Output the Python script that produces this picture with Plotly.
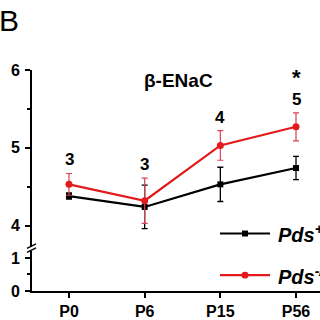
import plotly.graph_objects as go

# ---- data ----
categories = ["P0", "P6", "P15", "P56"]
wt_mean = [4.38, 4.24, 4.53, 4.74]
wt_err = [0.04, 0.28, 0.22, 0.15]
ko_mean = [4.53, 4.32, 5.03, 5.27]
ko_err = [0.14, 0.29, 0.19, 0.18]
n_labels = ["3", "3", "4", "5"]
sig_labels = ["", "", "", "*"]
legend_names = ["Pds<sup>+/+</sup>", "Pds<sup>-/-</sup>"]
title_text = "β-ENaC"
panel_letter = "B"

BLACK = "#000000"
RED = "#e31a1c"
RED_ERR = "#d9434f"
FONT = "Liberation Sans, Arial, sans-serif"

W, H = 320, 320
ML, MR, MT, MB = 32, 0, 70, 27
PW = W - ML - MR
PH = H - MT - MB


def px2x(px):
    return (px - ML) / PW


def px2y(py):
    return (H - MB - py) / PH


fig = go.Figure()

fig.add_trace(go.Scatter(
    x=categories, y=wt_mean, mode="lines+markers",
    line=dict(color=BLACK, width=2.2),
    marker=dict(symbol="square", size=6, color=BLACK),
    error_y=dict(type="data", array=wt_err, color=BLACK, thickness=1.3, width=3),
    showlegend=False, cliponaxis=False,
))
fig.add_trace(go.Scatter(
    x=categories, y=ko_mean, mode="lines+markers",
    line=dict(color=RED, width=2.2),
    marker=dict(symbol="circle", size=7, color=RED),
    error_y=dict(type="data", array=ko_err, color=RED_ERR, thickness=1.2, width=3),
    showlegend=False, cliponaxis=False,
))
# empty trace so the lower (0-1) axis segment is drawn
fig.add_trace(go.Scatter(
    x=categories, y=[None] * len(categories), yaxis="y2", mode="lines",
    showlegend=False, hoverinfo="skip",
))

annotations = []
for i, cat in enumerate(categories):
    top = max(ko_mean[i] + ko_err[i], wt_mean[i] + wt_err[i])
    annotations.append(dict(
        x=cat, y=top, xref="x", yref="y", text=f"<b>{n_labels[i]}</b>",
        showarrow=False, yanchor="bottom", yshift=2,
        font=dict(family=FONT, size=17, color=BLACK),
    ))
    if sig_labels[i]:
        annotations.append(dict(
            x=cat, y=top, xref="x", yref="y", text=f"<b>{sig_labels[i]}</b>",
            showarrow=False, yanchor="bottom", yshift=21,
            font=dict(family=FONT, size=22, color=BLACK),
        ))

annotations.append(dict(
    x=px2x(178), y=px2y(81), xref="paper", yref="paper", text=f"<b>{title_text}</b>",
    showarrow=False, xanchor="center", yanchor="middle",
    font=dict(family=FONT, size=19, color=BLACK),
))
annotations.append(dict(
    x=px2x(-3), y=px2y(20), xref="paper", yref="paper", text=panel_letter,
    showarrow=False, xanchor="left", yanchor="middle",
    font=dict(family=FONT, size=30, color=BLACK),
))

shapes = []
leg_y = [235, 277]
leg_cols = [BLACK, RED]
for k in range(2):
    shapes.append(dict(type="line", xref="paper", yref="paper",
                       x0=px2x(220), x1=px2x(270), y0=px2y(leg_y[k]), y1=px2y(leg_y[k]),
                       line=dict(color=leg_cols[k], width=2.2)))
    annotations.append(dict(
        x=px2x(276), y=px2y(leg_y[k]), xref="paper", yref="paper",
        text=f"<b><i>{legend_names[k]}</i></b>", showarrow=False,
        xanchor="left", yanchor="middle",
        font=dict(family=FONT, size=20, color=BLACK),
    ))
# legend glyphs
shapes.append(dict(type="rect", xref="paper", yref="paper",
                   x0=px2x(242), x1=px2x(248), y0=px2y(leg_y[0] + 3), y1=px2y(leg_y[0] - 3),
                   fillcolor=BLACK, line=dict(width=0)))
shapes.append(dict(type="circle", xref="paper", yref="paper",
                   x0=px2x(241.5), x1=px2x(248.5), y0=px2y(leg_y[1] + 3.5), y1=px2y(leg_y[1] - 3.5),
                   fillcolor=RED, line=dict(width=0)))
# axis break marks
for dy in (0, 4):
    shapes.append(dict(type="line", xref="paper", yref="paper",
                       x0=px2x(27), x1=px2x(36), y0=px2y(250 + dy), y1=px2y(245.5 + dy),
                       line=dict(color=BLACK, width=1.5)))

axis_common = dict(
    showgrid=False, zeroline=False, showline=True, linecolor=BLACK, linewidth=2,
    ticks="outside", tickcolor=BLACK, tickwidth=2, ticklen=5,
    tickfont=dict(family=FONT, size=16, color=BLACK),
)

fig.update_layout(
    width=W, height=H,
    margin=dict(l=ML, r=MR, t=MT, b=MB),
    paper_bgcolor="white", plot_bgcolor="rgba(0,0,0,0)",
    font=dict(family=FONT, color=BLACK),
    xaxis=dict(
        **{**axis_common, "tickfont": dict(family=FONT, size=16, color=BLACK)},
        type="category", categoryorder="array", categoryarray=categories,
        range=[-0.489, 3.317], anchor="y2",
        tickvals=categories, ticktext=[f"<b>{c}</b>" for c in categories],
    ),
    yaxis=dict(
        **axis_common, domain=[px2y(249), 1], range=[3.72, 6.0], anchor="x",
        tickvals=[4, 5, 6], ticktext=["<b>4</b>", "<b>5</b>", "<b>6</b>"],
        minor=dict(tickvals=[4.5, 5.5], ticks="outside", ticklen=3, tickwidth=2, tickcolor=BLACK),
        ticklabelstandoff=2,
    ),
    yaxis2=dict(
        **axis_common, domain=[0, px2y(253)], range=[0, 1.2], anchor="x",
        tickvals=[0, 1], ticktext=["<b>0</b>", "<b>1</b>"],
        minor=dict(tickvals=[0.5], ticks="outside", ticklen=3, tickwidth=2, tickcolor=BLACK),
        ticklabelstandoff=2,
    ),
    annotations=annotations,
    shapes=shapes,
)

fig.write_html("out.html")
